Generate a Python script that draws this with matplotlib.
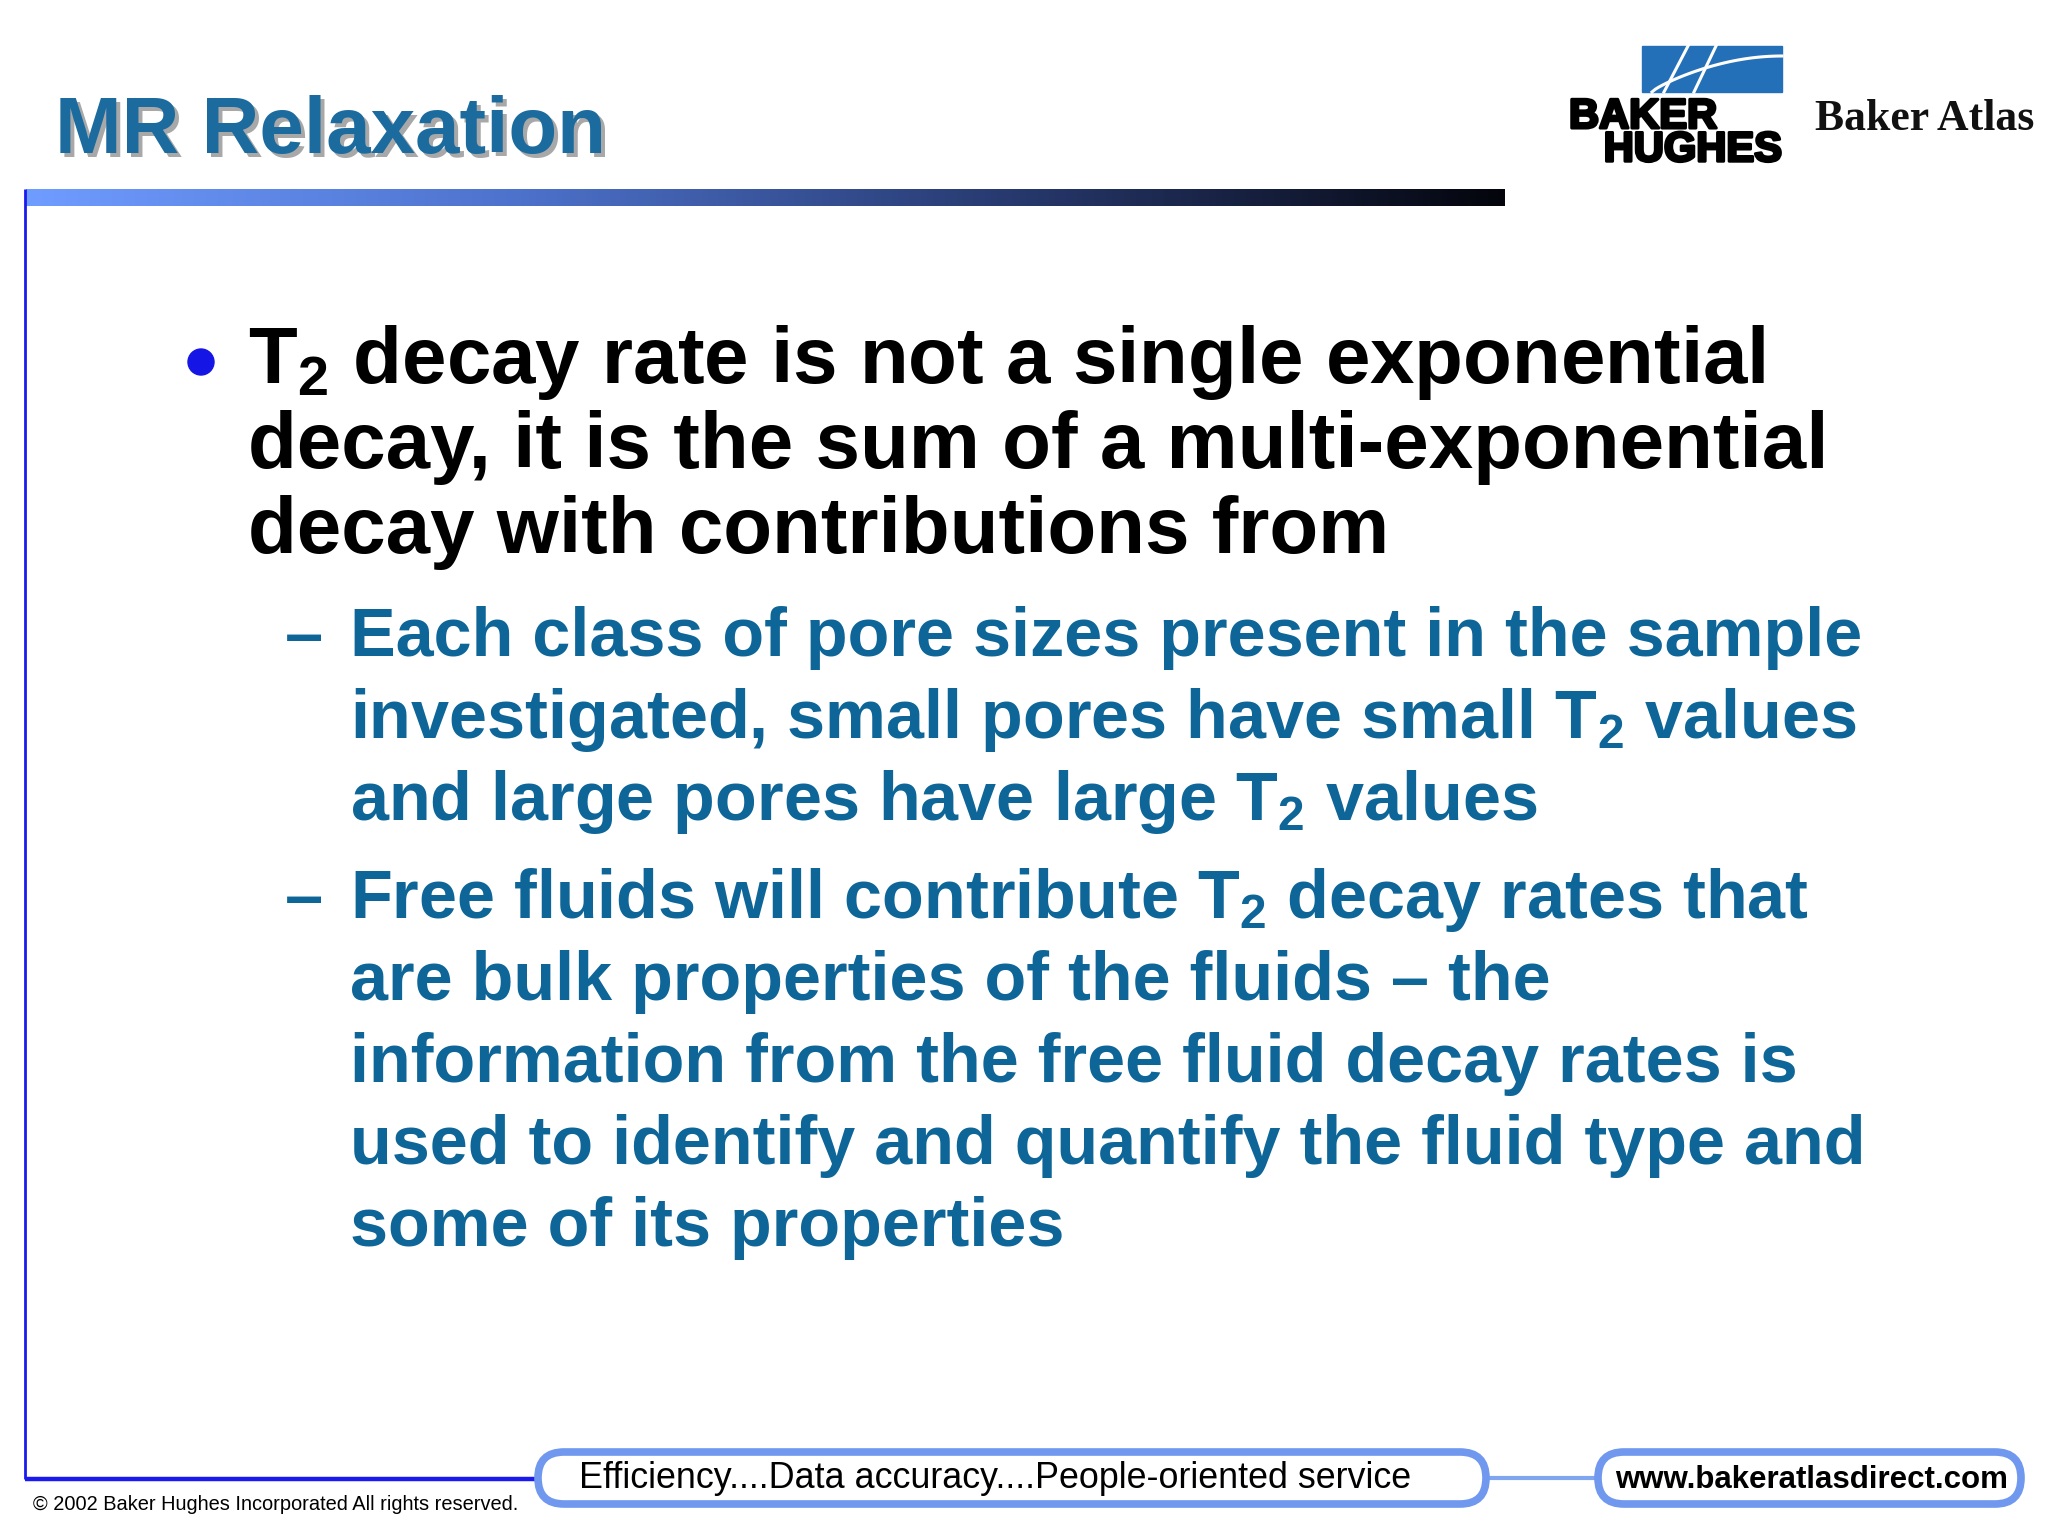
import numpy as np
import matplotlib
matplotlib.use("Agg")
import matplotlib.pyplot as plt
import matplotlib.patheffects as pe
from matplotlib import font_manager
from matplotlib.patches import FancyBboxPatch, Rectangle, Circle
from matplotlib.colors import LinearSegmentedColormap

plt.rcParams['font.family'] = ['Liberation Sans', 'DejaVu Sans']
plt.rcParams['mathtext.default'] = 'regular'

# slide text
title = "MR Relaxation"
main_lines = ["T$_2$ decay rate is not a single exponential",
              "decay, it is the sum of a multi-exponential",
              "decay with contributions from"]
sub_items = [
    ["Each class of pore sizes present in the sample",
     "investigated, small pores have small T$_2$ values",
     "and large pores have large T$_2$ values"],
    ["Free fluids will contribute T$_2$ decay rates that",
     "are bulk properties of the fluids \u2013 the",
     "information from the free fluid decay rates is",
     "used to identify and quantify the fluid type and",
     "some of its properties"],
]
logo_words = "BAKER\n   HUGHES"
footer_motto = "Efficiency....Data accuracy....People-oriented service"
footer_url = "www.bakeratlasdirect.com"
copyright_txt = "\u00a9 2002 Baker Hughes Incorporated All rights reserved."

sub_color = '#0d6598'
title_color = '#1b6b9f'

installed = {f.name for f in font_manager.fontManager.ttflist}
if 'Liberation Sans Narrow' in installed:
    motto_font, motto_size = 'Liberation Sans Narrow', 29
else:
    motto_font, motto_size = 'Liberation Sans', 25.8

fig = plt.figure(figsize=(20.48, 15.34), dpi=100)
ax = fig.add_axes([0, 0, 1, 1])
ax.set_xlim(0, 2048)
ax.set_ylim(1534, 0)
ax.axis('off')

# title with shadow
ax.text(59, 157, title, fontsize=57.5, fontweight='bold', color='#a8a8a8', va='baseline')
ax.text(55, 153, title, fontsize=57.5, fontweight='bold', color=title_color, va='baseline')

# gradient rule under title
cmap = LinearSegmentedColormap.from_list('rule', ['#6f9cff', '#4d72cc', '#27396e', '#04050c'])
grad = np.linspace(0, 1, 512).reshape(1, -1)
ax.imshow(grad, cmap=cmap, extent=(26, 1505, 206, 189), aspect='auto', zorder=2)

# frame lines
ax.plot([25, 25], [189, 1479], color='#1a1aee', lw=2.0, solid_capstyle='butt')
ax.plot([25, 537], [1479, 1479], color='#1a1aee', lw=3.2, solid_capstyle='butt')

# logo
ax.add_patch(Rectangle((1642, 46), 140, 46, color='#2470b8', zorder=3))
for x0, x1 in [(1664, 1688), (1694, 1716)]:
    ax.plot([x0, x1], [92, 46], color='white', lw=2.2, zorder=4)
t = np.linspace(0, 1, 40)
ax.plot(1652 + 130 * t, 92 - 36 * np.sin(t * np.pi / 2) ** 0.8, color='white', lw=2.2, zorder=4)
heavy = [pe.withStroke(linewidth=2.2, foreground='black')]
ax.text(1569, 97, logo_words, fontsize=30, fontweight='bold', va='top', ha='left',
        linespacing=0.78, path_effects=heavy)
ax.text(1815, 130, "Baker Atlas", fontsize=31.5, fontweight='bold', family='Liberation Serif',
        va='baseline', color='#111111')

# main bullet
ax.add_patch(Circle((201, 362), 13, color='#1515e6', zorder=3))
y = 383
for line in main_lines:
    ax.text(248, y, line, fontsize=57.5, fontweight='bold', color='black', va='baseline')
    y += 85

# sub bullets
y = 656
for item in sub_items:
    ax.text(285, y, "\u2013", fontsize=49.2, fontweight='bold', color=sub_color, va='baseline')
    for line in item:
        ax.text(350, y, line, fontsize=49.2, fontweight='bold', color=sub_color, va='baseline')
        y += 82
    y += 16

# footer
ax.plot([1489, 1596], [1478, 1478], color='#7fa6ee', lw=3, zorder=1)
pill1 = FancyBboxPatch((538, 1452), 948, 52, boxstyle="round,pad=0,rounding_size=26",
                       facecolor='white', edgecolor='#6f98ee', lw=5.5, zorder=2)
pill2 = FancyBboxPatch((1598, 1452), 423, 52, boxstyle="round,pad=0,rounding_size=26",
                       facecolor='white', edgecolor='#6f98ee', lw=5.5, zorder=2)
ax.add_patch(pill1)
ax.add_patch(pill2)
ax.text(995, 1478, footer_motto, fontsize=motto_size, family=motto_font,
        ha='center', va='center', zorder=3)
ax.text(1812, 1480, footer_url, fontsize=22.5, fontweight='bold', ha='center', va='center', zorder=3)
ax.text(33, 1505, copyright_txt, fontsize=14.4, va='center')

fig.savefig("out.png", dpi=100, facecolor='white')
